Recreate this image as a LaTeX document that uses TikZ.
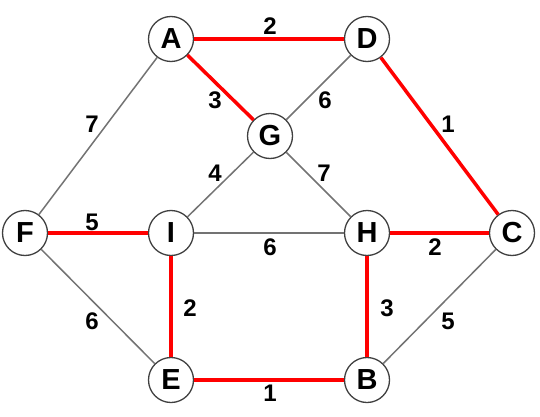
\documentclass[tikz,border=0pt]{standalone}
\usepackage{fontspec}
\setmainfont{Liberation Sans}
\begin{document}
\begin{tikzpicture}[x=1pt,y=-1pt,
  vert/.style={circle,draw=black!75,line width=1.3pt,fill=white,minimum size=45pt,inner sep=0pt,font=\fontsize{29}{29}\selectfont\bfseries},
  tree/.style={draw=red,line width=3.5pt},
  plain/.style={draw=black!55,line width=1.5pt},
  wt/.style={font=\fontsize{24}{24}\selectfont\bfseries,inner sep=0pt}]
\useasboundingbox (0,0) rectangle (540,417);
\node[vert] (A) at (171,39) {A};
\node[vert] (D) at (367,39) {D};
\node[vert] (G) at (270,136) {G};
\node[vert] (F) at (25,233) {F};
\node[vert] (I) at (171,233) {I};
\node[vert] (H) at (367,233) {H};
\node[vert] (C) at (512,233) {C};
\node[vert] (E) at (171,380) {E};
\node[vert] (B) at (367,380) {B};
\draw[plain] (A) -- (F);
\draw[plain] (D) -- (G);
\draw[plain] (G) -- (I);
\draw[plain] (G) -- (H);
\draw[plain] (I) -- (H);
\draw[plain] (F) -- (E);
\draw[plain] (B) -- (C);
\draw[tree] (A) -- (D);
\draw[tree] (A) -- (G);
\draw[tree] (D) -- (C);
\draw[tree] (F) -- (I);
\draw[tree] (I) -- (E);
\draw[tree] (E) -- (B);
\draw[tree] (H) -- (B);
\draw[tree] (H) -- (C);
\node[wt] (wAD) at (270,26) {2};
\node[wt] (wAG) at (215,100) {3};
\node[wt] (wDG) at (325,100) {6};
\node[wt] (wDC) at (448,124) {1};
\node[wt] (wAF) at (92,124) {7};
\node[wt] (wGI) at (215,173) {4};
\node[wt] (wGH) at (324,173) {7};
\node[wt] (wFI) at (92,222) {5};
\node[wt] (wIH) at (270,247) {6};
\node[wt] (wHC) at (435,247) {2};
\node[wt] (wIE) at (190,308) {2};
\node[wt] (wHB) at (387,308) {3};
\node[wt] (wFE) at (92,321) {6};
\node[wt] (wBC) at (448,321) {5};
\node[wt] (wEB) at (270,393) {1};
\end{tikzpicture}
\end{document}
